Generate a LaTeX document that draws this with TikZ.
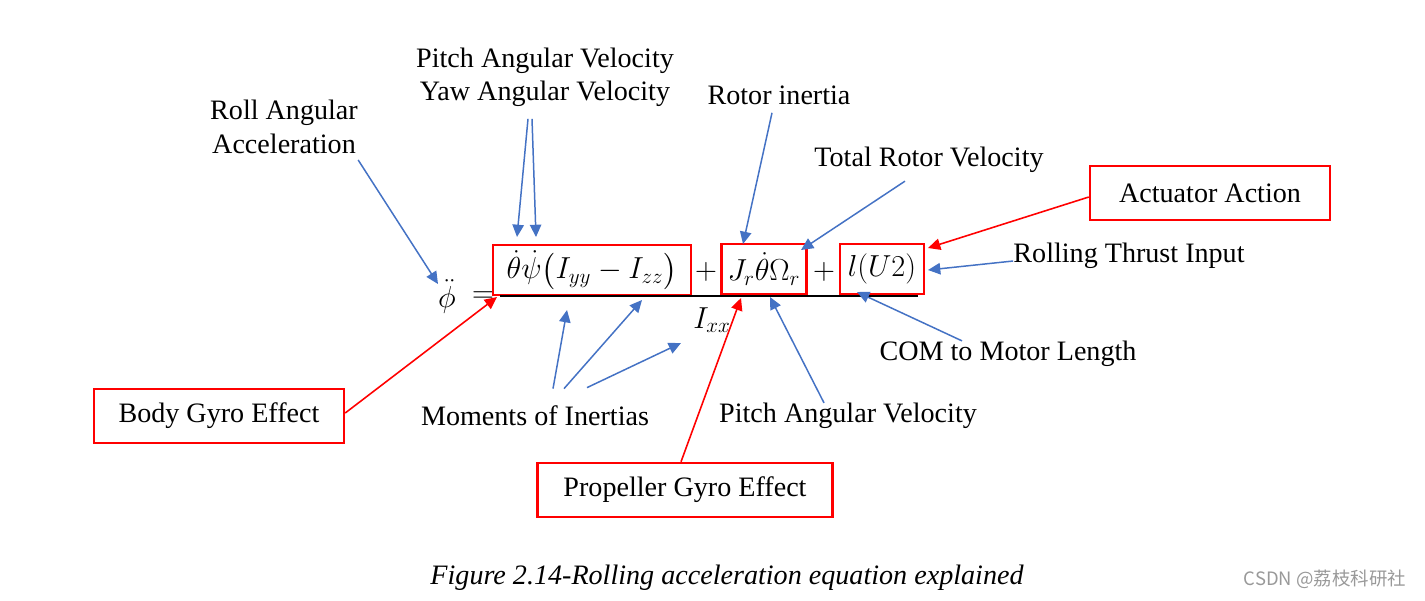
\documentclass[tikz,border=0pt]{standalone}
\usepackage{amsmath}
\usepackage{fontspec}
\setmainfont{Liberation Serif}
\newfontfamily\cjkfont{Noto Sans CJK SC}
\usetikzlibrary{arrows.meta,positioning}
\definecolor{arrowblue}{RGB}{68,114,196}
\definecolor{alertred}{RGB}{255,0,0}

\begin{document}
\begin{tikzpicture}[
    x=0.02cm, y=-0.02cm,
    every node/.style={align=center, inner sep=0pt},
    tag/.style={font=\fontsize{16}{19}\selectfont},
    effect/.style={rectangle, draw=alertred, line width=1.4pt, minimum height=1.08cm, font=\fontsize{16}{19}\selectfont},
    term/.style={rectangle, draw=alertred, line width=1.4pt, minimum height=1cm, font=\fontsize{17.5}{21}\selectfont},
    eqpart/.style={font=\fontsize{17.5}{21}\selectfont},
    bluearrow/.style={draw=arrowblue, line width=0.85pt, -{Triangle[length=7pt,width=6.5pt]}},
    redarrow/.style={draw=alertred, line width=0.9pt, -{Triangle[length=7pt,width=6.5pt]}}
]
\useasboundingbox (0,0) rectangle (1425,600);

% Equation
\node[eqpart] (phi) at (447,296) {$\ddot{\phi}$};
\node[eqpart] (equals) at (483,297) {$=$};
\node[term, minimum width=3.96cm] (gyro) at (592,270) {$\dot{\theta}\dot{\psi}\bigl(I_{yy}-I_{zz}\bigr)$};
\node[eqpart] (plusa) at (706,272) {$+$};
\node[term, minimum width=1.7cm] (rotorterm) at (764,269) {$J_r\dot{\theta}\Omega_r$};
\node[eqpart] (plusb) at (824,272) {$+$};
\node[term, minimum width=1.68cm] (input) at (882,269) {$l(U2)$};
\coordinate (barleft) at (500,296);
\coordinate (barright) at (918,296);
\draw[line width=1.5pt] (barleft) -- (barright);
\node[eqpart] (ixx) at (712,320) {$I_{xx}$};

% Labels
\node[tag] (roll) at (284,127) {Roll Angular\\Acceleration};
\node[tag] (pyvel) at (545,77) {Pitch Angular Velocity\\Yaw Angular Velocity};
\node[tag] (rotor) at (779,95) {Rotor inertia};
\node[tag] (total) at (929,160) {Total Rotor Velocity};
\node[effect, minimum width=4.8cm] (actuator) at (1210,193) {Actuator Action};
\node[tag] (thrust) at (1129,256) {Rolling Thrust Input};
\node[tag] (com) at (1008,354) {COM to Motor Length};
\node[tag] (pitch) at (848,416) {Pitch Angular Velocity};
\node[tag] (moments) at (535,416) {Moments of Inertias};
\node[effect, minimum width=5cm] (body) at (219,416) {Body Gyro Effect};
\node[effect, minimum width=5.9cm] (propeller) at (685,490) {Propeller Gyro Effect};

% Arrow tips
\coordinate (phitip) at (438,284);
\coordinate (thetatip) at (517,237);
\coordinate (psitip) at (536,237);
\coordinate (jrtip) at (743,244);
\coordinate (omegatip) at (801,250);
\coordinate (acttip) at (928,248);
\coordinate (thrusttip) at (928,270);
\coordinate (comtip) at (857,292);
\coordinate (pitchtip) at (770,297);
\coordinate (iyytip) at (567,310);
\coordinate (izztip) at (642,300);
\coordinate (ixxtip) at (681,343);
\coordinate (bodytip) at (497,297);
\coordinate (proptip) at (741,298);

% Connections
\draw[bluearrow] ([shift={(0,6)}]roll.south east) -- (phitip);
\draw[bluearrow] ([shift={(-17,12)}]pyvel.south) -- (thetatip);
\draw[bluearrow] ([shift={(-13,12)}]pyvel.south) -- (psitip);
\draw[bluearrow] ([shift={(-7,8)}]rotor.south) -- (jrtip);
\draw[bluearrow] ([shift={(-24,8)}]total.south) -- (omegatip);
\draw[redarrow] ([shift={(0,4)}]actuator.west) -- (acttip);
\draw[bluearrow] ([shift={(0,5)}]thrust.west) -- (thrusttip);
\draw[bluearrow] ([shift={(-46,0)}]com.north) -- (comtip);
\draw[bluearrow] ([shift={(-24,0)}]pitch.north) -- (pitchtip);
\draw[bluearrow] ([shift={(18,-17)}]moments.north) -- (iyytip);
\draw[bluearrow] ([shift={(29,-17)}]moments.north) -- (izztip);
\draw[bluearrow] ([shift={(52,-18)}]moments.north) -- (ixxtip);
\draw[redarrow] ([shift={(0,-3)}]body.east) -- (bodytip);
\draw[redarrow] ([shift={(-4,0)}]propeller.north) -- (proptip);

% Caption
\node[font=\itshape\fontsize{16}{20}\selectfont] (caption) at (727,578) {Figure 2.14-Rolling acceleration equation explained};
\node[font=\cjkfont\fontsize{10.5}{12}\selectfont, text=gray!80] (mark) at (1325,579) {CSDN @荔枝科研社};

\end{tikzpicture}
\end{document}
